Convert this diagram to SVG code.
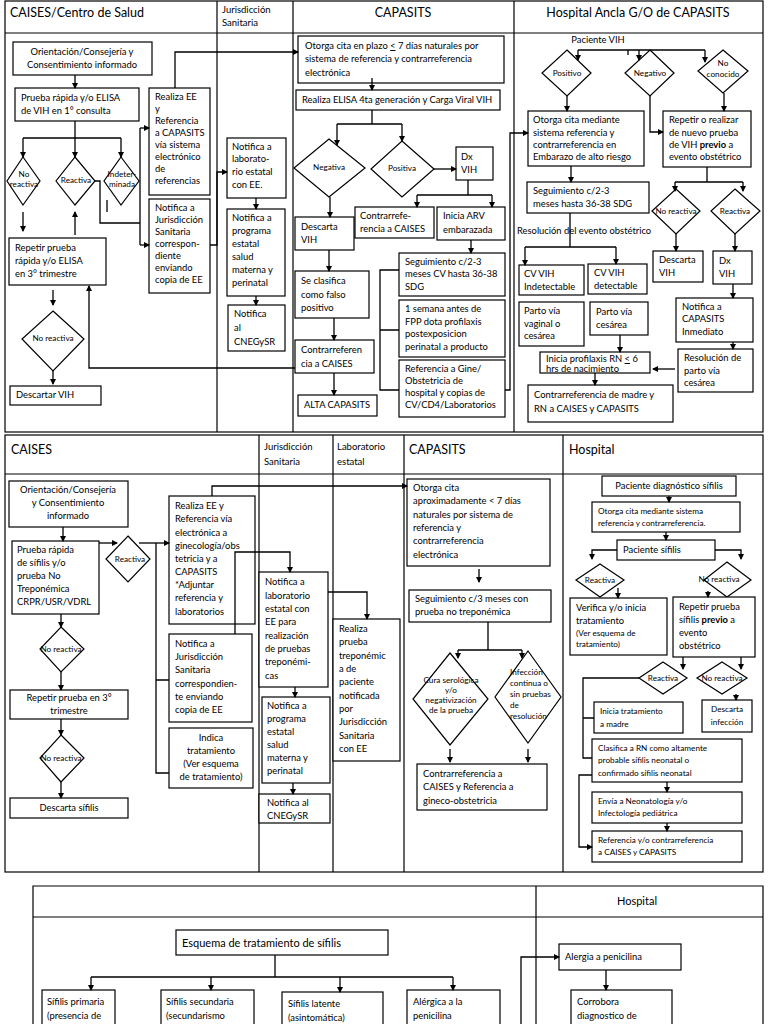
<svg xmlns="http://www.w3.org/2000/svg" width="768" height="1024" viewBox="0 0 768 1024">
<defs>
<marker id="a" markerWidth="6" markerHeight="6" refX="5" refY="3" orient="auto" markerUnits="userSpaceOnUse"><path d="M0,0 L6,3 L0,6 z" fill="#000"/></marker>
<style>
rect,polygon{fill:#fff;stroke:#000;stroke-width:1.2}
.f{fill:none;stroke:#000;stroke-width:1.2}
.c path{fill:none;stroke:#000;stroke-width:1.3}
.ar{marker-end:url(#a)}
text{font-family:Lato,"Open Sans","Liberation Sans",sans-serif;font-size:9.4px;fill:#000}
.h{font-size:12.5px}
.hs{font-size:9.5px}
.m{text-anchor:middle}
.s{font-size:8.2px}
</style>
</defs>
<rect width="768" height="1024" style="fill:#fff;stroke:none"/>

<g id="panel1">
<rect x="5" y="1" width="758" height="431" class="f"/>
<path d="M5,33 H763 M217,1 V432 M293,1 V432 M514,1 V432" class="f"/>
<text x="10" y="17" class="h">CAISES/Centro de Salud</text>
<text x="222" y="13" class="hs">Jurisdicción</text><text x="222" y="26" class="hs">Sanitaria</text>
<text x="403" y="17" class="h m">CAPASITS</text>
<text x="638" y="17" class="h m">Hospital Ancla G/O de CAPASITS</text>
</g>

<g id="p1n1"><rect x="13" y="42" width="139" height="33"/><text x="82" y="55" class="m">Orientación/Consejería y</text><text x="82" y="68" class="m">Consentimiento informado</text></g>
<g id="p1n2"><rect x="15" y="88" width="124" height="33"/><text x="21" y="101">Prueba rápida y/o ELISA</text><text x="21" y="114">de VIH en 1° consulta</text></g>
<g id="p1d1"><polygon points="23,157 40,181 23,205 7,181"/><text x="24" y="177" class="m s">No</text><text x="24" y="187" class="m s">reactiva</text></g>
<g id="p1d2"><polygon points="75,157 95,181 75,205 56,181"/><text x="76" y="183" class="m s">Reactiva</text></g>
<g id="p1d3"><polygon points="121,157 139,181 121,205 104,181"/><text x="122" y="177" class="m s">Indeter-</text><text x="122" y="187" class="m s">minada</text></g>
<g id="p1n3"><rect x="9" y="238" width="97" height="47"/><text x="15" y="251">Repetir prueba</text><text x="15" y="264">rápida y/o ELISA</text><text x="15" y="277">en 3° trimestre</text></g>
<g id="p1d4"><polygon points="53,311 84,339 53,371 22,339"/><text x="53" y="341" class="m s">No reactiva</text></g>
<g id="p1n4"><rect x="10" y="386" width="91" height="19"/><text x="16" y="398">Descartar VIH</text></g>
<g id="p1n5"><rect x="149" y="88" width="61" height="107"/><text x="155" y="100">Realiza EE</text><text x="155" y="112">y</text><text x="155" y="124">Referencia</text><text x="155" y="136">a CAPASITS</text><text x="155" y="148">vía sistema</text><text x="155" y="160">electrónico</text><text x="155" y="172">de</text><text x="155" y="184">referencias</text></g>
<g id="p1n6"><rect x="149" y="199" width="61" height="94"/><text x="155" y="211">Notifica a</text><text x="155" y="223">Jurisdicción</text><text x="155" y="235">Sanitaria</text><text x="155" y="247">correspon-</text><text x="155" y="259">diente</text><text x="155" y="271">enviando</text><text x="155" y="283">copia de EE</text></g>
<g id="p1n7"><rect x="227" y="138" width="59" height="60"/><text x="232" y="150">Notifica a</text><text x="232" y="162">laborato-</text><text x="232" y="175">rio estatal</text><text x="232" y="188">con EE.</text></g>
<g id="p1n8"><rect x="227" y="209" width="58" height="87"/><text x="232" y="221">Notifica a</text><text x="232" y="234">programa</text><text x="232" y="247">estatal</text><text x="232" y="260">salud</text><text x="232" y="273">materna y</text><text x="232" y="286">perinatal</text></g>
<g id="p1n9"><rect x="228" y="305" width="57" height="46"/><text x="234" y="317">Notifica</text><text x="234" y="331">al</text><text x="234" y="345">CNEGySR</text></g>

<g id="p1n10"><rect x="298" y="36" width="206" height="47"/><text x="305" y="49">Otorga cita en plazo <tspan text-decoration="underline">&lt;</tspan> 7 días naturales por</text><text x="305" y="62">sistema de referencia y contrarreferencia</text><text x="305" y="76">electrónica</text></g>
<g id="p1n11"><rect x="296" y="90" width="204" height="20"/><text x="302" y="103">Realiza ELISA 4ta generación y Carga Viral VIH</text></g>
<g id="p1d5"><polygon points="329,139 365,168 329,197 294,168"/><text x="329" y="170" class="m s">Negativa</text></g>
<g id="p1d6"><polygon points="402,141 434,169 402,197 371,169"/><text x="402" y="171" class="m s">Positiva</text></g>
<g id="p1n12"><rect x="456" y="147" width="37" height="33"/><text x="461" y="160">Dx</text><text x="461" y="173">VIH</text></g>
<g id="p1n13"><rect x="295" y="217" width="59" height="33"/><text x="301" y="230">Descarta</text><text x="301" y="243">VIH</text></g>
<g id="p1n14"><rect x="355" y="207" width="79" height="31"/><text x="360" y="219">Contrarrefe-</text><text x="360" y="232">rencia a CAISES</text></g>
<g id="p1n15"><rect x="437" y="207" width="68" height="33"/><text x="443" y="219">Inicia ARV</text><text x="443" y="233">embarazada</text></g>
<g id="p1n16"><rect x="295" y="271" width="74" height="47"/><text x="301" y="284">Se clasifica</text><text x="301" y="298">como falso</text><text x="301" y="311">positivo</text></g>
<g id="p1n17"><rect x="295" y="340" width="79" height="33"/><text x="301" y="353">Contrarreferen</text><text x="301" y="367">cia a CAISES</text></g>
<g id="p1n18"><rect x="298" y="395" width="79" height="21"/><text x="304" y="408">ALTA CAPASITS</text></g>
<g id="p1n19"><rect x="399" y="253" width="106" height="43"/><text x="405" y="265">Seguimiento c/2-3</text><text x="405" y="277">meses CV hasta 36-38</text><text x="405" y="290">SDG</text></g>
<g id="p1n20"><rect x="399" y="300" width="106" height="57"/><text x="405" y="312">1 semana antes de</text><text x="405" y="325">FPP dota profilaxis</text><text x="405" y="337">postexposicion</text><text x="405" y="350">perinatal a producto</text></g>
<g id="p1n21"><rect x="399" y="360" width="106" height="57"/><text x="405" y="372">Referencia a Gine/</text><text x="405" y="384">Obstetricia de</text><text x="405" y="396">hospital y copias de</text><text x="405" y="408">CV/CD4/Laboratorios</text></g>

<text x="598" y="43" class="m">Paciente VIH</text>
<g id="p1d7"><polygon points="567,50 591,73 567,96 542,73"/><text x="567" y="76" class="m s">Positivo</text></g>
<g id="p1d8"><polygon points="650,50 674,73 650,96 625,73"/><text x="650" y="76" class="m s">Negativo</text></g>
<g id="p1d9"><polygon points="723,50 748,71 723,93 698,71"/><text x="723" y="66" class="m s">No</text><text x="723" y="77" class="m s">conocido</text></g>
<g id="p1n22"><rect x="528" y="111" width="116" height="55"/><text x="533" y="123">Otorga cita mediante</text><text x="533" y="136">sistema referencia y</text><text x="533" y="148">contrarreferencia en</text><text x="533" y="160">Embarazo de alto riesgo</text></g>
<g id="p1n23"><rect x="663" y="111" width="88" height="56"/><text x="669" y="123">Repetir o realizar</text><text x="669" y="136">de nuevo prueba</text><text x="669" y="148">de VIH <tspan font-weight="bold">previo</tspan> a</text><text x="669" y="160">evento obstétrico</text></g>
<g id="p1n24"><rect x="527" y="182" width="122" height="31"/><text x="533" y="194">Seguimiento c/2-3</text><text x="533" y="207">meses hasta 36-38 SDG</text></g>
<text x="517" y="234">Resolución del evento obstétrico</text>
<g id="p1d10"><polygon points="676,189 700,211 676,234 652,211"/><text x="676" y="214" class="m s">No reactiva</text></g>
<g id="p1d11"><polygon points="735,189 760,211 735,234 711,211"/><text x="735" y="214" class="m s">Reactiva</text></g>
<g id="p1n25"><rect x="653" y="251" width="50" height="31"/><text x="659" y="263">Descarta</text><text x="659" y="276">VIH</text></g>
<g id="p1n26"><rect x="713" y="251" width="39" height="33"/><text x="719" y="264">Dx</text><text x="719" y="277">VIH</text></g>
<g id="p1n27"><rect x="519" y="265" width="65" height="30"/><text x="524" y="277">CV VIH</text><text x="524" y="290">Indetectable</text></g>
<g id="p1n28"><rect x="588" y="264" width="59" height="30"/><text x="594" y="276">CV VIH</text><text x="594" y="289">detectable</text></g>
<g id="p1n29"><rect x="519" y="302" width="65" height="44"/><text x="524" y="314">Parto vía</text><text x="524" y="327">vaginal o</text><text x="524" y="339">cesárea</text></g>
<g id="p1n30"><rect x="590" y="302" width="58" height="33"/><text x="596" y="315">Parto vía</text><text x="596" y="328">cesárea</text></g>
<g id="p1n31"><rect x="676" y="298" width="77" height="44"/><text x="682" y="310">Notifica a</text><text x="682" y="322">CAPASITS</text><text x="682" y="335">Inmediato</text></g>
<g id="p1n32"><rect x="678" y="349" width="75" height="43"/><text x="684" y="361">Resolución de</text><text x="684" y="374">parto vía</text><text x="684" y="386">cesárea</text></g>
<g id="p1n33"><rect x="540" y="352" width="110" height="21"/><text x="546" y="362">Inicia profilaxis RN <tspan text-decoration="underline">&lt;</tspan> 6</text><text x="546" y="372">hrs de nacimiento</text></g>
<g id="p1n34"><rect x="528" y="385" width="145" height="37"/><text x="534" y="398">Contrarreferencia de madre y</text><text x="534" y="412">RN a CAISES y CAPASITS</text></g>

<g class="c" id="connectors1">
<path class="ar" d="M75,75 V88"/>
<path d="M75,121 V138 M23,138 H121"/>
<path class="ar" d="M23,138 V157"/><path class="ar" d="M75,138 V157"/><path class="ar" d="M121,138 V157"/>
<path class="ar" d="M23,212 V231"/>
<path class="ar" d="M75,235 V212"/>
<path d="M95,181 H100 V223 H140 M140,128 V245 M107,200 V212"/>
<path class="ar" d="M140,128 H149"/><path class="ar" d="M140,245 H149"/>
<path class="ar" d="M53,290 V305"/>
<path class="ar" d="M53,371 V384"/>
<path class="ar" d="M295,368 H89 V286"/>
<path class="ar" d="M175,88 V52 H298"/>
<path class="ar" d="M210,245 H217 V172 H227"/>
<path class="ar" d="M256,198 V209"/>
<path class="ar" d="M256,296 V305"/>
<path class="ar" d="M372,78 V90"/>
<path d="M372,110 V124 M337,124 H402"/>
<path class="ar" d="M337,124 V145"/><path class="ar" d="M402,124 V141"/>
<path class="ar" d="M434,169 H456"/>
<path d="M468,180 V195 M417,195 H492"/>
<path class="ar" d="M417,195 V207"/><path class="ar" d="M492,195 V207"/>
<path class="ar" d="M330,197 V217"/>
<path class="ar" d="M329,250 V271"/>
<path class="ar" d="M334,318 V340"/>
<path class="ar" d="M334,373 V395"/>
<path class="ar" d="M471,240 V253"/>
<path d="M399,270 H380 V390 H399 M380,330 H399"/>
<path class="ar" d="M505,390 H510 V133 H528"/>
<path d="M578,50 H705 M628,50 V55"/>
<path class="ar" d="M578,50 V60"/><path class="ar" d="M639,50 V60"/><path class="ar" d="M705,50 V62"/>
<path class="ar" d="M567,96 V111"/>
<path class="ar" d="M650,96 V132 H663"/>
<path class="ar" d="M724,93 V111"/>
<path d="M707,167 V182 M675,182 H743"/>
<path class="ar" d="M675,182 V191"/><path class="ar" d="M743,182 V191"/>
<path class="ar" d="M571,166 V182"/>
<path d="M570,213 V247 M525,247 H616"/>
<path class="ar" d="M525,247 V265"/><path class="ar" d="M616,247 V264"/>
<path class="ar" d="M676,234 V251"/>
<path class="ar" d="M735,234 V251"/>
<path class="ar" d="M733,284 V298"/>
<path class="ar" d="M733,342 V349"/>
<path class="ar" d="M675,369 H653"/>
<path class="ar" d="M620,335 V352"/>
<path class="ar" d="M595,373 V385"/>
</g>

<g id="panel2">
<rect x="5" y="435" width="758" height="437" class="f"/>
<path d="M5,474 H763 M259,435 V872 M333,435 V872 M404,435 V872 M563,435 V872" class="f"/>
<text x="11" y="454" class="h">CAISES</text>
<text x="264" y="450" class="hs">Jurisdicción</text><text x="264" y="465" class="hs">Sanitaria</text>
<text x="337" y="450" class="hs">Laboratorio</text><text x="337" y="465" class="hs">estatal</text>
<text x="409" y="454" class="h">CAPASITS</text>
<text x="569" y="454" class="h">Hospital</text>
</g>
<g id="p2n1"><rect x="9" y="481" width="119" height="46"/><text x="68" y="493" class="m">Orientación/Consejería</text><text x="68" y="506" class="m">y Consentimiento</text><text x="68" y="519" class="m">informado</text></g>
<g id="p2n2"><rect x="12" y="541" width="87" height="73"/><text x="17" y="553">Prueba rápida</text><text x="17" y="566">de sífilis y/o</text><text x="17" y="579">prueba No</text><text x="17" y="592">Treponémica</text><text x="17" y="605">CRPR/USR/VDRL</text></g>
<g id="p2d1"><polygon points="128,536 150,559 128,582 106,559"/><text x="130" y="562" class="m s">Reactiva</text></g>
<g id="p2d2"><polygon points="61,627 84,649 61,672 40,649"/><text x="61" y="652" class="m s">No reactiva</text></g>
<g id="p2n3"><rect x="10" y="690" width="118" height="29"/><text x="69" y="701" class="m">Repetir prueba en 3°</text><text x="69" y="714" class="m">trimestre</text></g>
<g id="p2d3"><polygon points="61,735 84,758 61,782 40,758"/><text x="61" y="761" class="m s">No reactiva</text></g>
<g id="p2n4"><rect x="10" y="798" width="118" height="20"/><text x="69" y="811" class="m">Descarta sífilis</text></g>
<g id="p2n5"><rect x="169" y="496" width="86" height="128"/><text x="175" y="509">Realiza EE y</text><text x="175" y="522">Referencia vía</text><text x="175" y="536">electrónica a</text><text x="175" y="549">ginecología/obs</text><text x="175" y="562">tetricia y a</text><text x="175" y="575">CAPASITS</text><text x="175" y="588">*Adjuntar</text><text x="175" y="601">referencia y</text><text x="175" y="615">laboratorios</text></g>
<g id="p2n6"><rect x="169" y="634" width="83" height="88"/><text x="175" y="647">Notifica a</text><text x="175" y="660">Jurisdicción</text><text x="175" y="673">Sanitaria</text><text x="175" y="687">correspondien-</text><text x="175" y="700">te enviando</text><text x="175" y="713">copia de EE</text></g>
<g id="p2n7"><rect x="169" y="728" width="84" height="60"/><text x="211" y="741" class="m">Indica</text><text x="211" y="754" class="m">tratamiento</text><text x="211" y="767" class="m">(Ver esquema</text><text x="211" y="780" class="m">de tratamiento)</text></g>
<g id="p2n8"><rect x="259" y="572" width="69" height="115"/><text x="265" y="585">Notifica a</text><text x="265" y="599">laboratorio</text><text x="265" y="612">estatal con</text><text x="265" y="625">EE para</text><text x="265" y="639">realización</text><text x="265" y="652">de pruebas</text><text x="265" y="665">treponémi-</text><text x="265" y="679">cas</text></g>
<g id="p2n9"><rect x="262" y="697" width="68" height="86"/><text x="267" y="709">Notifica a</text><text x="267" y="722">programa</text><text x="267" y="735">estatal</text><text x="267" y="748">salud</text><text x="267" y="761">materna y</text><text x="267" y="774">perinatal</text></g>
<g id="p2n10"><rect x="259" y="794" width="71" height="29"/><text x="267" y="806">Notifica al</text><text x="267" y="819">CNEGySR</text></g>
<g id="p2n11"><rect x="333" y="619" width="67" height="142"/><text x="339" y="632">Realiza</text><text x="339" y="645">prueba</text><text x="339" y="659">treponémic</text><text x="339" y="672">a de</text><text x="339" y="685">paciente</text><text x="339" y="699">notificada</text><text x="339" y="712">por</text><text x="339" y="725">Jurisdicción</text><text x="339" y="739">Sanitaria</text><text x="339" y="752">con EE</text></g>
<g id="p2n12"><rect x="407" y="479" width="143" height="87"/><text x="413" y="491">Otorga cita</text><text x="413" y="504">aproximadamente &lt; 7 días</text><text x="413" y="518">naturales por sistema de</text><text x="413" y="531">referencia y</text><text x="413" y="544">contrarreferencia</text><text x="413" y="558">electrónica</text></g>
<g id="p2n13"><rect x="409" y="590" width="142" height="32"/><text x="415" y="602">Seguimiento c/3 meses con</text><text x="415" y="615">prueba no treponémica</text></g>
<g id="p2d4"><polygon points="450,653 488,699 450,745 413,699"/><text x="451" y="683" class="m s">Cura serológica</text><text x="451" y="693" class="m s">y/o</text><text x="451" y="703" class="m s">negativización</text><text x="451" y="713" class="m s">de la prueba</text></g>
<g id="p2d5"><polygon points="528,651 561,697 528,743 495,697"/><text x="510" y="675" class="s">Infección</text><text x="510" y="686" class="s">continua o</text><text x="510" y="697" class="s">sin pruebas</text><text x="510" y="708" class="s">de</text><text x="510" y="719" class="s">resolución</text></g>
<g id="p2n14"><rect x="417" y="764" width="130" height="46"/><text x="423" y="777">Contrarreferencia a</text><text x="423" y="790">CAISES y Referencia a</text><text x="423" y="804">gineco-obstetricia</text></g>
<g id="p2n15"><rect x="602" y="476" width="134" height="20"/><text x="669" y="489" class="m">Paciente diagnóstico sífilis</text></g>
<g id="p2n16"><rect x="592" y="502" width="148" height="30"/><text x="598" y="514" class="s">Otorga cita mediante sistema</text><text x="598" y="526" class="s">referencia y contrarreferencia.</text></g>
<g id="p2n17"><rect x="617" y="540" width="98" height="20"/><text x="623" y="553">Paciente sífilis</text></g>
<g id="p2d6"><polygon points="600,564 624,580 600,597 576,580"/><text x="600" y="583" class="m s">Reactiva</text></g>
<g id="p2d7"><polygon points="727,562 751,580 727,597 704,580"/><text x="719" y="582" class="m s">No reactiva</text></g>
<g id="p2n18"><rect x="570" y="598" width="97" height="57"/><text x="576" y="611">Verifica y/o inicia</text><text x="576" y="624">tratamiento</text><text x="576" y="636" class="s">(Ver esquema de</text><text x="576" y="647" class="s">tratamiento)</text></g>
<g id="p2n19"><rect x="673" y="597" width="82" height="60"/><text x="679" y="610">Repetir prueba</text><text x="679" y="623">sífilis <tspan font-weight="bold">previo</tspan> a</text><text x="679" y="636">evento</text><text x="679" y="649">obstétrico</text></g>
<g id="p2d8"><polygon points="663,662 687,678 663,694 639,678"/><text x="663" y="681" class="m s">Reactiva</text></g>
<g id="p2d9"><polygon points="722,662 747,678 722,694 697,678"/><text x="722" y="681" class="m s">No reactiva</text></g>
<g id="p2n20"><rect x="594" y="702" width="89" height="31"/><text x="600" y="714" class="s">Inicia tratamiento</text><text x="600" y="727" class="s">a madre</text></g>
<g id="p2n21"><rect x="702" y="700" width="50" height="32"/><text x="727" y="712" class="m s">Descarta</text><text x="727" y="725" class="m s">infección</text></g>
<g id="p2n22"><rect x="592" y="739" width="150" height="43"/><text x="598" y="751" class="s">Clasifica a RN como altamente</text><text x="598" y="763" class="s">probable sífilis neonatal o</text><text x="598" y="776" class="s">confirmado sífilis neonatal</text></g>
<g id="p2n23"><rect x="592" y="792" width="150" height="31"/><text x="598" y="804" class="s">Envía a Neonatología y/o</text><text x="598" y="816" class="s">Infectología pediátrica</text></g>
<g id="p2n24"><rect x="592" y="831" width="150" height="31"/><text x="598" y="843" class="s">Referencia y/o contrarreferencia</text><text x="598" y="855" class="s">a CAISES y CAPASITS</text></g>

<g class="c" id="connectors2">
<path class="ar" d="M63,527 V541"/>
<path class="ar" d="M99,543 H117"/>
<path class="ar" d="M139,543 H169"/>
<path d="M156,543 V773 H169 M156,680 H169"/>
<path class="ar" d="M212,496 V486 H407"/>
<path class="ar" d="M235,634 V552 H290 V572"/>
<path class="ar" d="M328,592 H367 V619"/>
<path class="ar" d="M295,687 V697"/>
<path class="ar" d="M293,783 V794"/>
<path class="ar" d="M61,614 V627"/>
<path class="ar" d="M61,672 V690"/>
<path class="ar" d="M61,719 V735"/>
<path class="ar" d="M61,782 V798"/>
<path class="ar" d="M479,569 V582"/>
<path d="M488,622 V650 M458,650 H522"/>
<path class="ar" d="M458,650 V658"/><path class="ar" d="M522,650 V658"/>
<path class="ar" d="M450,749 V762"/><path class="ar" d="M528,749 V762"/>
<path class="ar" d="M669,496 V502"/>
<path class="ar" d="M666,532 V540"/>
<path class="ar" d="M617,550 H592 V559"/>
<path class="ar" d="M715,550 H741 V559"/>
<path class="ar" d="M618,588 V598"/>
<path class="ar" d="M708,591 V597"/>
<path class="ar" d="M683,657 V669"/><path class="ar" d="M741,657 V669"/>
<path class="ar" d="M736,694 V700"/>
<path d="M639,678 H583 V758 H592 M583,718 H594"/>
<path class="ar" d="M592,775 H579 V847 H592"/>
<path class="ar" d="M667,782 V792"/>
<path class="ar" d="M667,823 V831"/>
</g>

<g id="panel3">
<path d="M33,1024 V886 H763 V1024 M33,917 H763 M536,886 V1024" class="f"/>
<text x="637" y="905" class="h m" style="font-size:11px">Hospital</text>
</g>
<g id="p3n1"><rect x="176" y="930" width="212" height="25"/><text x="182" y="947" style="font-size:11px">Esquema de tratamiento de sífilis</text></g>
<g id="p3n2"><rect x="42" y="990" width="73" height="40"/><text x="47" y="1005">Sífilis primaria</text><text x="47" y="1019">(presencia de</text></g>
<g id="p3n3"><rect x="161" y="990" width="93" height="40"/><text x="166" y="1005">Sífilis secundaria</text><text x="166" y="1019">(secundarismo</text></g>
<g id="p3n4"><rect x="282" y="992" width="101" height="40"/><text x="288" y="1007">Sífilis latente</text><text x="288" y="1021">(asintomática)</text></g>
<g id="p3n5"><rect x="407" y="990" width="93" height="40"/><text x="413" y="1005">Alérgica a la</text><text x="413" y="1019">penicilina</text></g>
<g id="p3n6"><rect x="559" y="944" width="122" height="26"/><text x="565" y="960">Alergia a penicilina</text></g>
<g id="p3n7"><rect x="571" y="990" width="101" height="40"/><text x="577" y="1005">Corrobora</text><text x="577" y="1019">diagnostico de</text></g>
<g class="c" id="connectors3">
<path d="M275,955 V977 M91,977 H453"/>
<path class="ar" d="M91,977 V990"/><path class="ar" d="M211,977 V990"/><path class="ar" d="M340,977 V992"/><path class="ar" d="M453,977 V990"/>
<path class="ar" d="M521,1024 V957 H559"/>
<path class="ar" d="M606,970 V990"/>
</g>
</svg>
